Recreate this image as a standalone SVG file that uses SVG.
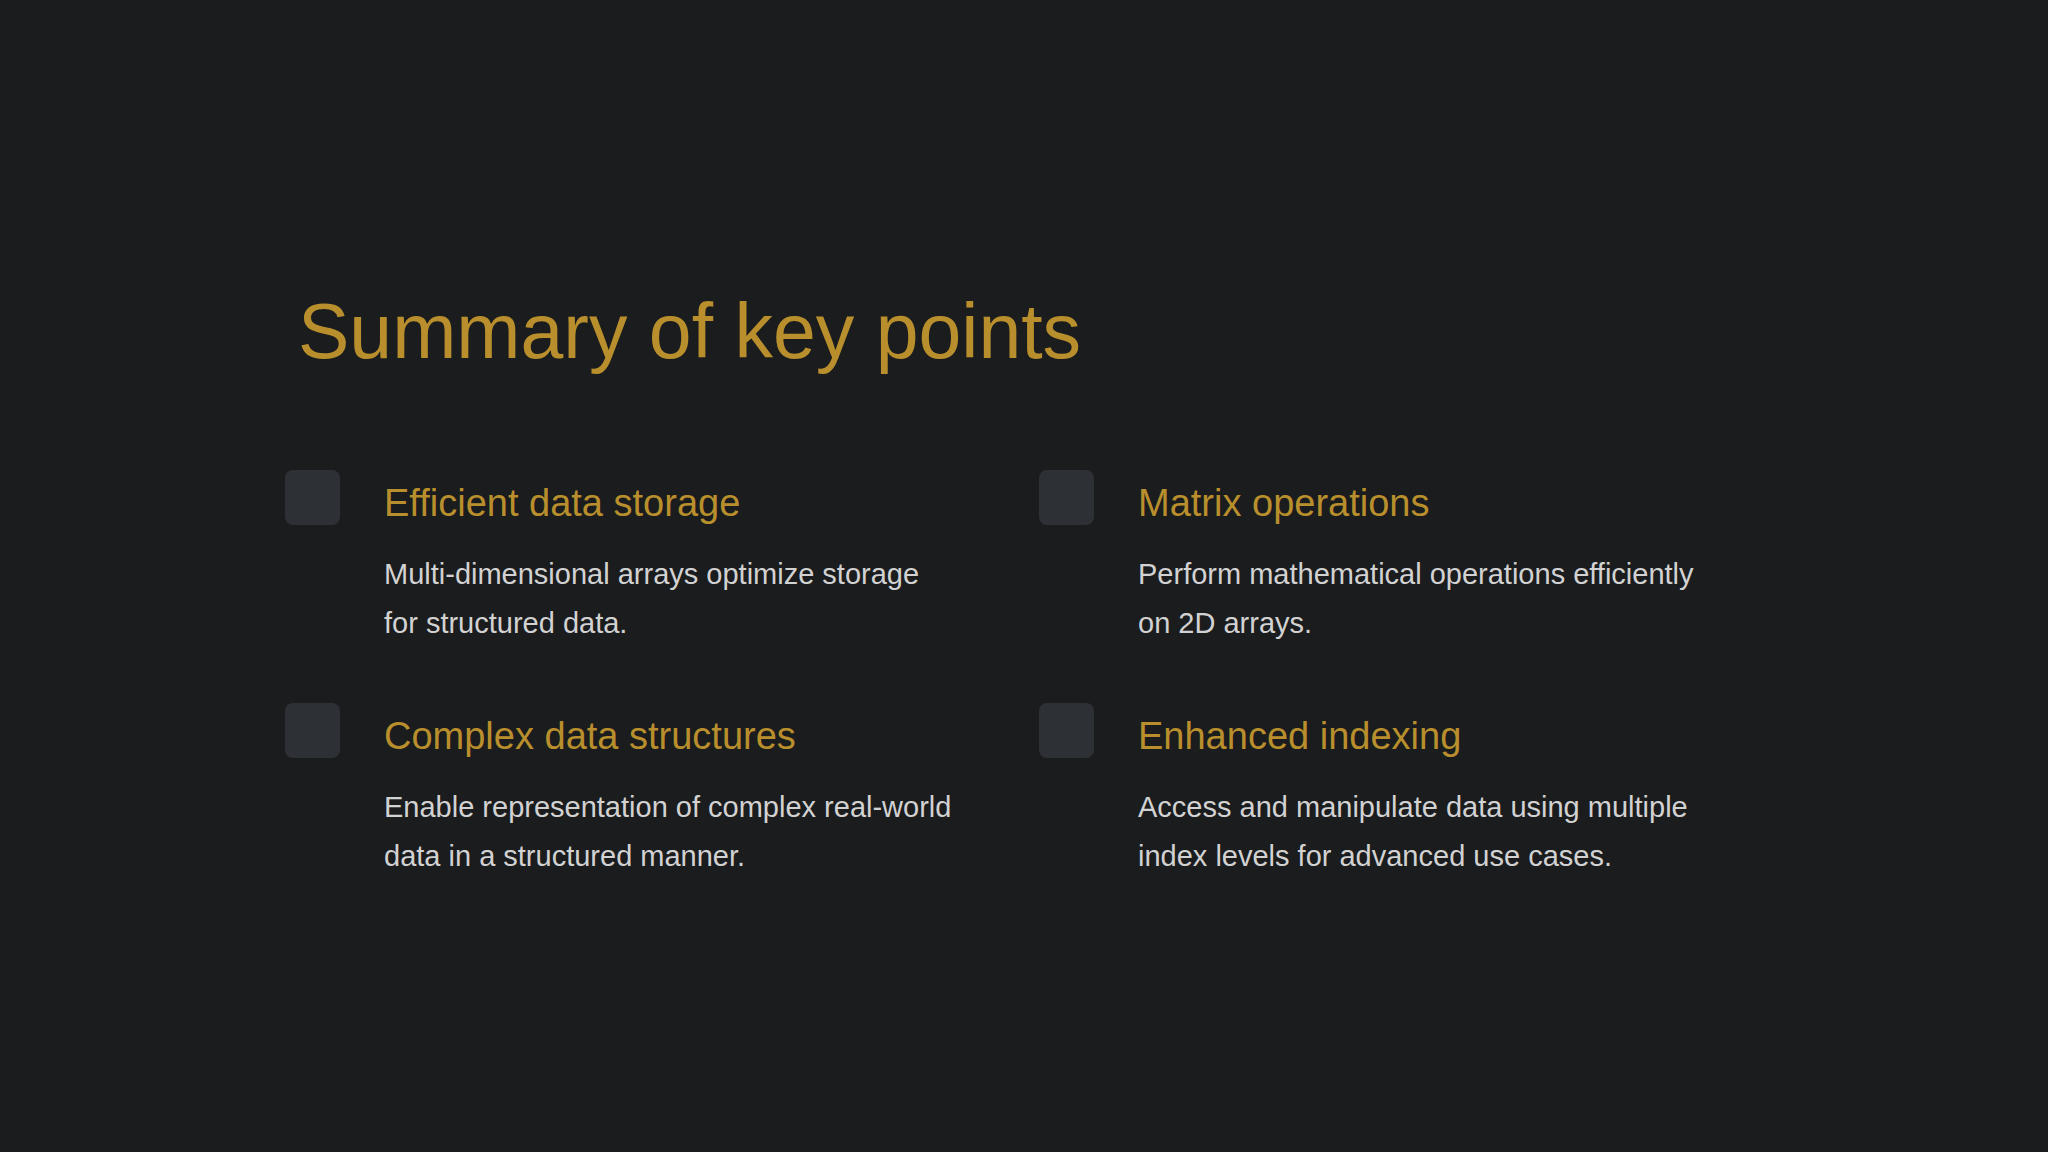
<svg xmlns="http://www.w3.org/2000/svg" width="2048" height="1152" viewBox="0 0 2048 1152">
<style>
.t{font-family:"Liberation Sans",Arial,sans-serif;fill:#b88f2c}
.h{font-family:"Liberation Sans",Arial,sans-serif;fill:#b88f2c;font-size:38px}
.b{font-family:"Liberation Sans",Arial,sans-serif;fill:#d2d2d2;font-size:29px}
.box{fill:#2d3034}
</style>
<rect width="2048" height="1152" fill="#1b1c1e"/>
<text class="t" x="298" y="358" font-size="77">Summary of key points</text>
<g id="n1"><rect class="box" x="285" y="470" width="55" height="55" rx="8"/>
<text class="h" x="384" y="516">Efficient data storage</text>
<text class="b" x="384" y="584">Multi-dimensional arrays optimize storage</text>
<text class="b" x="384" y="633">for structured data.</text></g>
<g id="n2"><rect class="box" x="1039" y="470" width="55" height="55" rx="8"/>
<text class="h" x="1138" y="516">Matrix operations</text>
<text class="b" x="1138" y="584">Perform mathematical operations efficiently</text>
<text class="b" x="1138" y="633">on 2D arrays.</text></g>
<g id="n3"><rect class="box" x="285" y="703" width="55" height="55" rx="8"/>
<text class="h" x="384" y="749">Complex data structures</text>
<text class="b" x="384" y="817">Enable representation of complex real-world</text>
<text class="b" x="384" y="866">data in a structured manner.</text></g>
<g id="n4"><rect class="box" x="1039" y="703" width="55" height="55" rx="8"/>
<text class="h" x="1138" y="749">Enhanced indexing</text>
<text class="b" x="1138" y="817">Access and manipulate data using multiple</text>
<text class="b" x="1138" y="866">index levels for advanced use cases.</text></g>
<g id="connectors"/>
</svg>
